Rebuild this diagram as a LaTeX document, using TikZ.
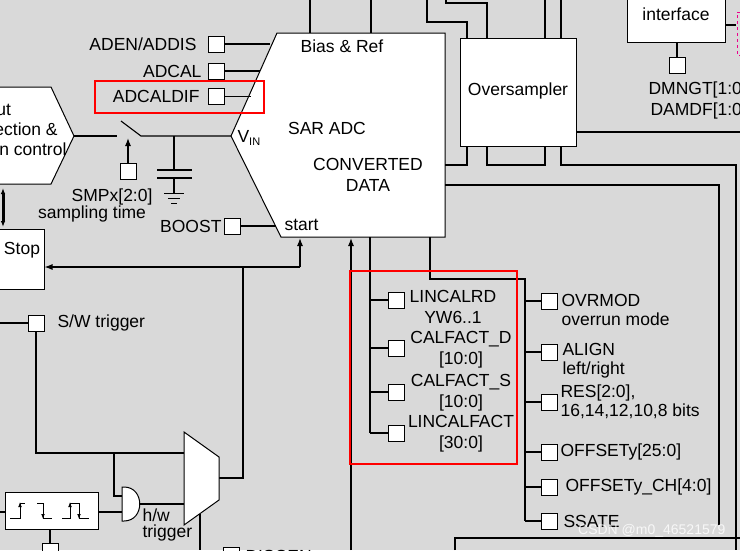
\documentclass[tikz,border=0pt]{standalone}
\usepackage{fontspec}
\setmainfont{Liberation Sans}
\usetikzlibrary{arrows.meta}
\begin{document}
\begin{tikzpicture}[x=1pt,y=-1pt,line width=1.1pt,
  reg/.style={draw,fill=white,minimum size=16pt,inner sep=0pt,line width=1pt},
  lbl/.style={font=\fontsize{17.5}{18}\selectfont,inner sep=0pt},
  wire/.style={line width=1.1pt},
  hl/.style={draw=red,line width=2.2pt}]
\useasboundingbox (0,0) rectangle (740,550);
\fill[fill={rgb,255:red,217;green,217;blue,217}] (0,0) rectangle (740,550);
\begin{scope}
\clip (0,0) rectangle (740,550);
% top wires
\draw[wire] (310,0)--(310,33) (371,0)--(371,33);
\draw[wire] (427,0)--(427,22)--(467,22)--(467,38);
\draw[wire] (446,0)--(446,3)--(487,3)--(487,38);
\draw[wire] (545,0)--(545,38) (561,0)--(561,38);
% SAR ADC
\draw[fill=white,line width=1pt] (277,33)--(445,33)--(445,237)--(281,237)--(231,136)--cycle;
\node[lbl] (bias) at (342,46) {Bias \& Ref};
\node[lbl] (sar) at (327,128) {SAR ADC};
\node[lbl,align=center] (conv) at (368,175) {CONVERTED\\[3pt]DATA};
\node[lbl,anchor=west] (vin) at (237,138) {V\textsubscript{\fontsize{11}{11}\selectfont IN}};
\node[lbl,anchor=west] (start) at (284,225) {start};
% Oversampler
\node[draw,fill=white,line width=1pt,minimum width=116pt,minimum height=108pt,inner sep=0pt] (ovs) at (518,92) {};
\node[lbl] (ovst) at (518,91) {Oversampler};
\draw[wire] (467,146)--(467,165)--(445,165);
\draw[wire] (487,146)--(487,165)--(545,165)--(545,146);
\draw[wire] (561,146)--(561,165)--(736,165)--(736,550);
\draw[wire] (445,185)--(719,185)--(719,525);
\draw[wire] (576,132)--(740,132);
% interface
\node[draw,fill=white,line width=1pt,minimum width=98pt,minimum height=52pt,inner sep=0pt] (intf) at (676,16) {};
\node[lbl] (intft) at (676,14) {interface};
\node[reg] (dm) at (677,65) {};
\draw[wire] (dm)--(677,42);
\node[lbl,anchor=west] (dmt) at (648,90) {DMNGT[1:0]};
\node[lbl,anchor=west] (dat) at (650,111) {DAMDF[1:0]};
\draw[wire] (725,25)--(736,25);
\draw[magenta,dashed,line width=1pt] (746,12)--(737,12)--(737,55)--(746,55);
% left inputs
\node[reg] (aden) at (216,44) {};
\node[lbl,anchor=east] (adent) at (197,44) {ADEN/ADDIS};
\draw[wire] (aden)--(270,44);
\node[reg] (adcal) at (216,71) {};
\node[lbl,anchor=east] (adcalt) at (202,71) {ADCAL};
\draw[wire] (adcal)--(260,71);
\node[reg] (adcd) at (216,96) {};
\node[lbl,anchor=east] (adcdt) at (200,96) {ADCALDIF};
\draw[line width=0.8pt] (adcd)--(251,96);
\draw[hl] (95,81) rectangle (264,113);
% hexagon
\draw[fill=white,line width=1pt] (-20,87)--(51,87)--(74,136)--(51,184)--(-20,184);
\node[lbl,align=left,anchor=east] (hext) at (67,130) {Input\\[2pt]selection \&\\[2pt]scan control};
% switch
\coordinate (vinpt) at (231,136);
\draw[wire] (74,136)--(117,136);
\draw[wire] (121,121)--(141,136)--(vinpt);
\draw[wire] (174,136)--(174,170);
\draw[wire] (157,170)--(192,170) (157,178)--(192,178);
\draw[wire] (174,178)--(174,193);
\draw[line width=0.8pt] (164,193)--(184,193) (168,198)--(180,198) (171,203)--(177,203);
\node[reg] (smp) at (128,171) {};
\draw[wire,-{Latex[length=8pt]}] (smp)--(128,138);
\node[lbl,anchor=east] (smpt) at (153,197) {SMPx[2:0]};
\node[lbl] (smpt2) at (92,214) {sampling time};
% BOOST
\node[reg] (boost) at (232,226) {};
\node[lbl,anchor=east] (boostt) at (222,226) {BOOST};
\draw[wire] (boost)--(276,226);
% Stop
\node[draw,fill=white,line width=1pt,minimum width=60pt,minimum height=60pt,inner sep=0pt] (stop) at (14,259) {};
\node[lbl] (stopt) at (22,250) {Stop};
\draw[line width=3pt,{Latex[length=6pt]}-{Latex[length=6pt]}] (3,188)--(3,227);
\draw[wire,-{Latex[length=8pt]}] (300,267)--(stop.east|-0,267);
\draw[wire,-{Latex[length=8pt]}] (300,267)--(300,238);
\draw[wire] (243,267)--(243,478)--(219,478);
% S/W trigger
\node[reg] (sw) at (36,323) {};
\node[lbl,anchor=west] (swt) at (57,323) {S/W trigger};
\draw[wire] (0,323)--(sw);
\draw[wire] (sw)--(36,453)--(184,453);
\draw[wire] (114,453)--(114,496)--(122,496);
% mux
\draw[fill=white,line width=1pt] (184,432)--(219,457)--(219,500)--(184,525)--cycle;
\draw[wire] (200,514)--(200,550);
% AND gate
\draw[fill=white,line width=1pt] (122,487)--(124,487) .. controls (145,487) and (145,521) .. (124,521) -- (122,521) -- cycle;
\draw[wire] (139.5,504)--(184,504);
\node[lbl,anchor=west,align=left] (hw) at (142,525) {h/w\\[-2pt]trigger};
% edge box
\node[draw,fill=white,line width=1pt,minimum width=93pt,minimum height=37pt,inner sep=0pt] (edge) at (51.5,510.5) {};
\draw[line width=0.9pt] (10,518)--(20,518)--(20,503)--(25,503);
\draw[line width=0.9pt,-{Latex[length=5pt]}] (20,518)--(20,502);
\draw[line width=0.9pt] (37,503)--(43,503)--(43,518)--(52,518);
\draw[line width=0.9pt,-{Latex[length=5pt]}] (43,503)--(43,519);
\draw[line width=0.9pt] (62,518)--(70,518)--(70,503)--(79,503)--(79,518)--(89,518);
\draw[line width=0.9pt,-{Latex[length=5pt]}] (70,518)--(70,502);
\draw[line width=0.9pt,-{Latex[length=5pt]}] (79,503)--(79,519);
\draw[wire] (98,512)--(122,512);
\draw[wire] (0,512)--(5,512);
\draw[wire] (50,529)--(50,543);
\node[reg] (eb) at (50,551) {};
\node[reg] (disc) at (231,555) {};
\node[lbl,anchor=west] (disct) at (245,556) {DISCEN};
% under SAR
\draw[wire,-{Latex[length=8pt]}] (351,550)--(351,238);
\draw[wire] (370,237)--(370,433);
\draw[wire] (430,237)--(430,279)--(525,279)--(525,521);
\draw[wire] (455,550)--(455,538)--(740,538);
\foreach \n/\y in {a/300,b/348,c/392,d/433}{
  \node[reg] (l\n) at (396,\y) {};
  \draw[wire] (370,\y)--(l\n);
}
\node[lbl,align=center] (lat) at (453,307) {LINCALRD\\[3pt]YW6..1};
\node[lbl,align=center] (lbt) at (461,350) {CALFACT\_D\\[3pt][10:0]};
\node[lbl,align=center] (lct) at (461,393) {CALFACT\_S\\[3pt][10:0]};
\node[lbl,align=center] (ldt) at (461,434) {LINCALFACT\\[3pt][30:0]};
\draw[hl] (350,271) rectangle (517,464);
\foreach \n/\y in {a/301,b/352,c/402,d/452,e/487,f/521}{
  \node[reg] (r\n) at (549,\y) {};
  \draw[wire] (525,\y)--(r\n);
}
\node[lbl,anchor=west,align=left] (rat) at (561,310) {OVRMOD\\[1pt]overrun mode};
\node[lbl,anchor=west,align=left] (rbt) at (562,361) {ALIGN\\[1pt]left/right};
\node[lbl,anchor=west,align=left] (rct) at (560,402) {RES[2:0],\\[1pt]16,14,12,10,8 bits};
\node[lbl,anchor=west] (rdt) at (560,452) {OFFSETy[25:0]};
\node[lbl,anchor=west] (ret) at (565,487) {OFFSETy\_CH[4:0]};
\node[lbl,anchor=west] (rft) at (563,521) {SSATE};
\node[lbl,anchor=east,text=white,opacity=0.8,font=\fontsize{14}{14}\selectfont] (wm) at (726,531) {CSDN @m0\_46521579};
\end{scope}
\end{tikzpicture}
\end{document}
